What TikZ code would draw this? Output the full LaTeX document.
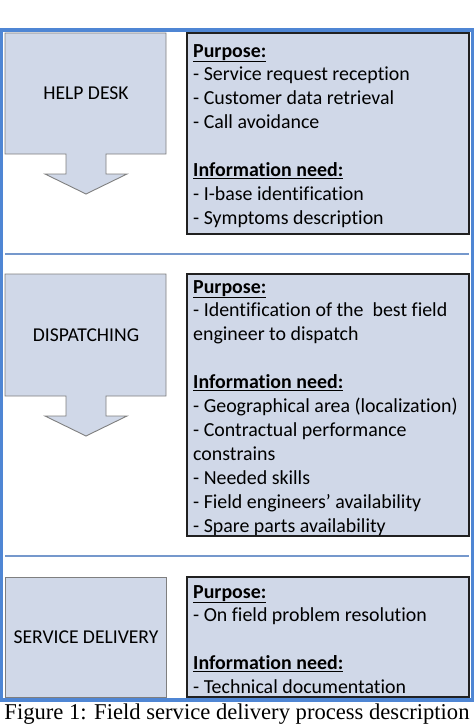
\documentclass[tikz,border=0pt]{standalone}
\usepackage{fontspec}
\setmainfont{Carlito}[Ligatures=NoCommon]
\newfontfamily\capfont{Liberation Serif}
\definecolor{boxfill}{HTML}{D0D8E8}
\definecolor{framecol}{HTML}{4F86D4}
\definecolor{sepcol}{HTML}{7598CC}
\definecolor{leftedge}{HTML}{7F7F7F}
\definecolor{rightedge}{HTML}{202020}
\tikzset{
  stagebox/.style={fill=boxfill, draw=leftedge, line width=0.9pt},
  infobox/.style={fill=boxfill, draw=rightedge, line width=1.4pt},
  stagelabel/.style={font=\fontsize{19.6}{24}\selectfont, inner sep=0pt},
  infotext/.style={font=\fontsize{19.9}{23.9}\selectfont, inner sep=0pt, anchor=base west},
  sepline/.style={draw=sepcol, line width=1.3pt},
}
\newcommand{\hd}[1]{\underline{\textbf{#1}}}
\begin{document}
\begin{tikzpicture}[x=1pt,y=-1pt]
\useasboundingbox (0,0) rectangle (474,725);
% outer frame
\draw[framecol, line width=3.2pt] (1.8,30) rectangle (472.2,700);
% separators
\draw[sepline] (5,254) -- (469,254);
\draw[sepline] (5,556) -- (469,556);
% help desk
\draw[stagebox] (5,33) -- (166,33) -- (166,154) -- (106,154) -- (106,174) -- (127,174)
  -- (86,194) -- (45,174) -- (66,174) -- (66,154) -- (5,154) -- cycle;
\node[stagelabel] (hd) at (86,93) {HELP DESK};
\draw[infobox] (187,33) rectangle (469,234);
\node[infotext] (hdt) at (193,57) {\parbox[t]{272pt}{\raggedright
\hd{Purpose:}\\
- Service request reception\\
- Customer data retrieval\\
- Call avoidance\\
\mbox{}\\
\hd{Information need:}\\
- I-base identification\\
- Symptoms description}};
% dispatching
\draw[stagebox] (5,274) -- (166,274) -- (166,396) -- (106,396) -- (106,416) -- (127,416)
  -- (86,436) -- (45,416) -- (66,416) -- (66,396) -- (5,396) -- cycle;
\node[stagelabel] (dp) at (86,335) {DISPATCHING};
\draw[infobox] (187,274) rectangle (469,536);
\node[infotext] (dpt) at (193,293) {\parbox[t]{276pt}{\raggedright
\hd{Purpose:}\\
- Identification of the\ \ best field\\
engineer to dispatch\\
\mbox{}\\
\hd{Information need:}\\
- Geographical area (localization)\\
- Contractual performance\\
constrains\\
- Needed skills\\
- Field engineers’ availability\\
- Spare parts availability}};
% service delivery
\draw[stagebox] (5,577) rectangle (166,697);
\node[stagelabel] (sd) at (86,637) {SERVICE DELIVERY};
\draw[infobox] (187,577) rectangle (469,697);
\node[infotext] (sdt) at (193,598) {\parbox[t]{272pt}{\raggedright
\hd{Purpose:}\\
- On field problem resolution\\
\mbox{}\\
\hd{Information need:}\\
- Technical documentation}};
% caption
\node[font=\capfont\fontsize{22.6}{24}\selectfont, inner sep=0pt, anchor=base] (cap) at (237,719)
  {Figure 1: Field service delivery process description};
\end{tikzpicture}
\end{document}
